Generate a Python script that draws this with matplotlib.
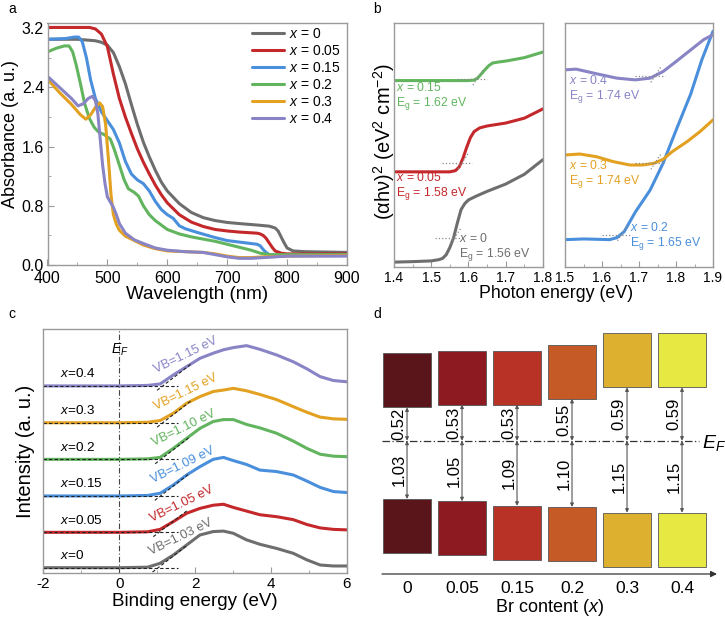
import numpy as np
import matplotlib
matplotlib.use('Agg')
import matplotlib.pyplot as plt
from matplotlib.patches import Rectangle
from matplotlib.ticker import MultipleLocator, FormatStrFormatter, FuncFormatter

plt.rcParams['font.family'] = ['Liberation Sans', 'DejaVu Sans']
plt.rcParams['mathtext.fontset'] = 'custom'
plt.rcParams['mathtext.it'] = 'Liberation Sans:italic'
plt.rcParams['mathtext.rm'] = 'Liberation Sans'
plt.rcParams['mathtext.bf'] = 'Liberation Sans:bold'

# ---------------- data ----------------
comp_labels = ['0', '0.05', '0.15', '0.2', '0.3', '0.4']
colors = ['#6e6e6e', '#c4282b', '#4a8fdc', '#62b45e', '#e3a121', '#8884c6']

# Panel a : absorbance spectra
wl_0 = [400, 450, 480, 490, 500, 510, 520, 530, 540, 550, 560, 570, 580, 590, 600, 620, 640, 660, 680, 700,
        720, 750, 770, 780, 785, 790, 795, 800, 810, 830, 900]
ab_0 = [3.05, 3.05, 3.03, 3.01, 2.97, 2.87, 2.68, 2.45, 2.17, 1.90, 1.66, 1.46, 1.28, 1.12, 1.00, 0.83, 0.71,
        0.64, 0.60, 0.575, 0.56, 0.54, 0.525, 0.50, 0.46, 0.38, 0.30, 0.23, 0.19, 0.18, 0.17]
wl_005 = [400, 470, 480, 490, 500, 510, 520, 530, 540, 550, 560, 570, 580, 590, 600, 620, 640, 660, 680, 700,
          720, 750, 755, 760, 765, 770, 775, 780, 790, 800, 900]
ab_005 = [3.21, 3.21, 3.19, 3.12, 2.95, 2.58, 2.25, 2.00, 1.78, 1.57, 1.39, 1.23, 1.08, 0.95, 0.84, 0.68, 0.58,
          0.52, 0.48, 0.46, 0.445, 0.43, 0.42, 0.40, 0.36, 0.30, 0.24, 0.19, 0.16, 0.15, 0.15]
wl_015 = [400, 430, 445, 452, 458, 465, 472, 480, 490, 500, 510, 520, 530, 540, 550, 560, 570, 580, 590, 600,
          610, 620, 630, 650, 680, 700, 720, 740, 750, 755, 760, 765, 770, 780, 900]
ab_015 = [3.05, 3.06, 3.08, 3.08, 3.02, 2.80, 2.50, 2.25, 2.07, 1.95, 1.83, 1.65, 1.40, 1.23, 1.15, 1.10, 1.00,
          0.86, 0.75, 0.68, 0.63, 0.53, 0.49, 0.44, 0.37, 0.33, 0.31, 0.29, 0.28, 0.26, 0.21, 0.17, 0.14, 0.13, 0.13]
wl_02 = [400, 415, 428, 436, 442, 448, 455, 462, 470, 478, 485, 495, 505, 512, 520, 528, 535, 545, 552, 560,
         570, 580, 590, 600, 620, 640, 660, 680, 700, 720, 740, 755, 770, 900]
ab_02 = [2.88, 2.93, 2.96, 2.96, 2.88, 2.70, 2.45, 2.18, 1.98, 1.86, 1.80, 1.76, 1.70, 1.55, 1.35, 1.15, 1.03,
         0.98, 0.93, 0.80, 0.68, 0.60, 0.54, 0.48, 0.42, 0.38, 0.35, 0.32, 0.28, 0.24, 0.20, 0.16, 0.14, 0.14]
wl_03 = [400, 420, 440, 455, 464, 472, 480, 487, 492, 497, 502, 506, 510, 515, 520, 530, 545, 560, 580, 600,
         630, 660, 680, 700, 720, 740, 760, 800, 900]
ab_03 = [2.51, 2.33, 2.17, 2.03, 1.97, 2.03, 2.13, 2.19, 2.14, 1.90, 1.40, 0.95, 0.68, 0.55, 0.47, 0.39, 0.33,
         0.27, 0.22, 0.19, 0.18, 0.17, 0.15, 0.12, 0.10, 0.10, 0.11, 0.12, 0.13]
wl_04 = [400, 420, 440, 451, 460, 468, 475, 480, 484, 488, 492, 496, 500, 505, 510, 515, 520, 530, 545, 560,
         580, 600, 630, 660, 680, 700, 720, 740, 760, 800, 900]
ab_04 = [2.55, 2.40, 2.25, 2.15, 2.18, 2.25, 2.28, 2.22, 2.05, 1.70, 1.35, 1.10, 0.92, 0.85, 0.78, 0.68, 0.56,
         0.43, 0.34, 0.29, 0.23, 0.20, 0.18, 0.17, 0.14, 0.11, 0.09, 0.09, 0.10, 0.12, 0.12]

# Panel b : Tauc plots (arbitrary units)
tl_e0 = [1.40, 1.45, 1.50, 1.52, 1.53, 1.54, 1.55, 1.56, 1.57, 1.58, 1.59, 1.60, 1.62, 1.65, 1.70, 1.75, 1.80]
tl_y0 = [0.02, 0.022, 0.025, 0.03, 0.035, 0.05, 0.08, 0.12, 0.18, 0.235, 0.26, 0.275, 0.29, 0.31, 0.34, 0.38, 0.44]
tl_e005 = [1.40, 1.50, 1.55, 1.565, 1.575, 1.585, 1.595, 1.605, 1.615, 1.63, 1.65, 1.70, 1.75, 1.80]
tl_y005 = [0.39, 0.39, 0.39, 0.395, 0.41, 0.445, 0.49, 0.53, 0.555, 0.57, 0.578, 0.59, 0.61, 0.648]
tl_e015 = [1.40, 1.60, 1.615, 1.625, 1.635, 1.645, 1.655, 1.665, 1.68, 1.70, 1.75, 1.80]
tl_y015 = [0.764, 0.764, 0.766, 0.775, 0.792, 0.81, 0.826, 0.836, 0.84, 0.844, 0.858, 0.881]
tr_e02 = [1.50, 1.55, 1.60, 1.62, 1.64, 1.66, 1.675, 1.69, 1.73, 1.765, 1.80, 1.84, 1.87, 1.90]
tr_y02 = [0.112, 0.115, 0.113, 0.112, 0.12, 0.145, 0.185, 0.225, 0.315, 0.425, 0.56, 0.71, 0.85, 0.966]
tr_e03 = [1.50, 1.54, 1.585, 1.63, 1.675, 1.71, 1.74, 1.765, 1.79, 1.83, 1.865, 1.90]
tr_y03 = [0.459, 0.463, 0.452, 0.432, 0.418, 0.418, 0.425, 0.441, 0.473, 0.514, 0.555, 0.603]
tr_e04 = [1.50, 1.53, 1.585, 1.64, 1.69, 1.73, 1.765, 1.80, 1.84, 1.875, 1.90]
tr_y04 = [0.808, 0.811, 0.792, 0.774, 0.767, 0.774, 0.801, 0.842, 0.89, 0.932, 0.952]
eg_left = [1.56, 1.58, 1.62]
eg_right = [1.65, 1.74, 1.74]

# Panel c : UPS valence band spectra (offset, arbitrary units)
be = [-2.0, 0.0, 0.75, 1.08, 1.43, 1.78, 2.13, 2.48, 2.75, 3.01, 3.36, 3.71, 4.15, 4.59, 4.95, 5.30, 5.65, 6.0]
ups_0 = [0.023, 0.023, 0.025, 0.041, 0.075, 0.116, 0.157, 0.171, 0.173, 0.164, 0.137, 0.119, 0.102, 0.082,
         0.055, 0.034, 0.030, 0.030]
ups_005 = [0.168, 0.168, 0.170, 0.180, 0.212, 0.246, 0.266, 0.279, 0.283, 0.270, 0.255, 0.240, 0.232, 0.220,
           0.200, 0.186, 0.180, 0.178]
ups_015 = [0.317, 0.317, 0.319, 0.328, 0.362, 0.403, 0.437, 0.467, 0.475, 0.462, 0.446, 0.423, 0.417, 0.403,
           0.378, 0.352, 0.335, 0.331]
ups_02 = [0.467, 0.467, 0.469, 0.475, 0.512, 0.553, 0.594, 0.622, 0.630, 0.630, 0.610, 0.596, 0.574, 0.542,
          0.512, 0.488, 0.480, 0.478]
ups_03 = [0.617, 0.617, 0.619, 0.626, 0.656, 0.697, 0.724, 0.745, 0.751, 0.758, 0.748, 0.733, 0.712, 0.683,
          0.660, 0.640, 0.633, 0.631]
ups_04 = [0.768, 0.768, 0.770, 0.776, 0.813, 0.847, 0.881, 0.902, 0.916, 0.925, 0.933, 0.918, 0.895, 0.867,
          0.838, 0.806, 0.790, 0.785]
vb_values = [1.03, 1.05, 1.09, 1.10, 1.15, 1.15]

# Panel d : band alignment
cb_offsets = [0.52, 0.53, 0.53, 0.55, 0.59, 0.59]
box_colors = ['#5a151a', '#8e1a21', '#b93226', '#c65a27', '#ddb02f', '#e8e843']

# ---------------- figure ----------------
W, H = 725, 618
fig = plt.figure(figsize=(W / 100, H / 100), dpi=100)


def fax(l, t, r, b):
    return fig.add_axes([l / W, 1 - b / H, (r - l) / W, (b - t) / H])


spine_c = '#9a9a9a'


def style(ax, ls=11):
    for s in ax.spines.values():
        s.set_color(spine_c)
        s.set_linewidth(1.0)
    ax.tick_params(which='both', direction='in', color=spine_c, labelsize=ls, pad=3)
    ax.tick_params(which='major', length=4)
    ax.tick_params(which='minor', length=2.5)


# ----- panel a -----
axa = fax(47.5, 23, 347, 265)
style(axa, 11.5)
axa.tick_params(axis='x', pad=4.5)
axa.tick_params(axis='y', pad=2.5)
a_series = [(wl_0, ab_0), (wl_005, ab_005), (wl_015, ab_015), (wl_02, ab_02), (wl_03, ab_03), (wl_04, ab_04)]
for (w, a), c, lab in zip(a_series, colors, comp_labels):
    axa.plot(w, a, color=c, lw=2.2, label='$x$ = ' + lab, solid_capstyle='round')
axa.set_xlim(400, 900)
axa.set_ylim(0, 3.27)
axa.xaxis.set_major_locator(MultipleLocator(100))
axa.xaxis.set_minor_locator(MultipleLocator(50))
axa.yaxis.set_major_locator(MultipleLocator(0.8))
axa.yaxis.set_minor_locator(MultipleLocator(0.4))
axa.yaxis.set_major_formatter(FormatStrFormatter('%.1f'))
axa.set_xlabel('Wavelength (nm)', fontsize=13.5, labelpad=0)
axa.set_ylabel('Absorbance (a. u.)', fontsize=13)
axa.yaxis.set_label_coords(-0.095, 0.54)
axa.legend(loc='upper left', bbox_to_anchor=(0.682, 0.985), frameon=False, fontsize=10,
           handlelength=2.35, handletextpad=0.35, labelspacing=0.22, borderpad=0, borderaxespad=0)

# ----- panel b -----
axbl = fax(394, 23, 543, 267)
axbr = fax(565, 23, 713, 267)
for ax in (axbl, axbr):
    style(ax, 10)
    ax.set_yticks([])
    ax.set_ylim(0, 1)
    ax.xaxis.set_major_locator(MultipleLocator(0.1))
    ax.xaxis.set_minor_locator(MultipleLocator(0.05))
    ax.xaxis.set_major_formatter(FormatStrFormatter('%.1f'))
axbl.set_xlim(1.4, 1.8)
axbr.set_xlim(1.5, 1.9)

# colours in panel b follow the original figure (0.15 green, 0.2 blue)
left_series = [(tl_e0, tl_y0, colors[0], comp_labels[0]), (tl_e005, tl_y005, colors[1], comp_labels[1]),
               (tl_e015, tl_y015, colors[3], comp_labels[2])]
right_series = [(tr_e02, tr_y02, colors[2], comp_labels[3]), (tr_e03, tr_y03, colors[4], comp_labels[4]),
                (tr_e04, tr_y04, colors[5], comp_labels[5])]

tan_c = '#8a8a8a'


def tauc(ax, series, egs, text_pos):
    for (e, y, c, lab), eg, (tx, ty) in zip(series, egs, text_pos):
        ax.plot(e, y, color=c, lw=2.2, solid_capstyle='round')
        y0 = np.interp(eg, e, y)
        ax.plot([eg - 0.05, eg + 0.03], [y0, y0], ls=':', color=tan_c, lw=0.9)
        ax.plot([eg - 0.008, eg + 0.02], [y0 - 0.025, y0 + 0.04], ls=':', color=tan_c, lw=0.9)
        ax.text(tx, ty, '$x$ = %s\nE$_\\mathrm{g}$ = %.2f eV' % (lab, eg), color=c, fontsize=8.8,
                ha='left', va='center', linespacing=1.1)


tauc(axbl, left_series, eg_left, [(1.574, 0.080), (1.405, 0.331), (1.405, 0.700)])
tauc(axbr, right_series, eg_right, [(1.675, 0.126), (1.512, 0.378), (1.512, 0.728)])
fig.text(384 / W, 1 - 142 / H, '(αhν)$^2$ (eV$^2$ cm$^{-2}$)', rotation=90, ha='center',
         va='center', fontsize=14.5)
fig.text(556 / W, 1 - 294 / H, 'Photon energy (eV)', ha='center', va='center', fontsize=12.8)

# ----- panel c -----
axc = fax(43.3, 329.3, 346.7, 573.3)
style(axc, 11)
axc.set_xlim(-2, 6)
axc.set_ylim(0, 1)
axc.set_yticks([])
axc.xaxis.set_major_locator(MultipleLocator(2))
axc.xaxis.set_minor_locator(MultipleLocator(1))
axc.xaxis.set_major_formatter(FuncFormatter(lambda v, p: '%d' % v))
axc.axvline(0, color='#444444', lw=0.8, ls=(0, (5, 2, 1, 2)))
axc.text(0.02, 0.915, '$E_F$', ha='center', va='center', fontsize=10)
ups = [ups_0, ups_005, ups_015, ups_02, ups_03, ups_04]
for y, c, lab, vb in zip(ups, colors, comp_labels, vb_values):
    axc.plot(be, y, color=c, lw=2.2, solid_capstyle='round')
    base = y[0]
    axc.plot([-2, 1.55], [base, base], color='#222222', lw=0.8, ls=(0, (3, 2)))
    axc.plot([vb - 0.15, vb + 0.75], [base - 0.018, base + 0.09], color='#222222', lw=0.8, ls=(0, (3, 2)))
    axc.text(-1.56, base + 0.05, '$x$=' + lab, fontsize=9.7, ha='left', va='center')
    cx = vb + 0.6
    axc.text(cx, np.interp(cx, be, y) + 0.05, 'VB=%.2f eV' % vb, color=c, fontsize=9.3, rotation=26,
             ha='center', va='center', rotation_mode='anchor')
axc.set_xlabel('Binding energy (eV)', fontsize=13.5, labelpad=1)
axc.set_ylabel('Intensity (a. u.)', fontsize=14.5, labelpad=6)

# ----- panel d -----
axd = fax(382, 325, 717, 574)
axd.set_xlim(-0.455, 5.636)
axd.set_ylim(-133.3, 115.7)
for s in axd.spines.values():
    s.set_visible(False)
axd.set_yticks([])


def cb_scale(v):
    return 33.3 + 285.7 * (v - 0.52)


def vb_scale(v):
    return 58.3 + 114.0 * (v - 1.03)


box_w, box_h = 0.89, 54
arrow_c = '#555555'
for i, (cbo, vbo, bc) in enumerate(zip(cb_offsets, vb_values, box_colors)):
    top = cb_scale(cbo)
    bot = vb_scale(vbo)
    axd.add_patch(Rectangle((i - box_w / 2, top), box_w, box_h, facecolor=bc, edgecolor='#555555', lw=0.6))
    axd.add_patch(Rectangle((i - box_w / 2, -bot - box_h), box_w, box_h, facecolor=bc, edgecolor='#555555', lw=0.6))
    axd.annotate('', xy=(i, top), xytext=(i, 0),
                 arrowprops=dict(arrowstyle='<|-|>', mutation_scale=5, lw=0.8, color=arrow_c,
                                 shrinkA=0, shrinkB=0))
    axd.annotate('', xy=(i, -bot), xytext=(i, 0),
                 arrowprops=dict(arrowstyle='<|-|>', mutation_scale=5, lw=0.8, color=arrow_c,
                                 shrinkA=0, shrinkB=0))
    axd.text(i - 0.14, top / 2, '%.2f' % cbo, rotation=90, ha='center', va='center', fontsize=12)
    axd.text(i - 0.14, -bot / 2, '%.2f' % vbo, rotation=90, ha='center', va='center', fontsize=12)
axd.plot([-0.455, 5.3], [0, 0], color='#333333', lw=0.9, ls=(0, (6, 2, 1, 2)))
axd.text(5.36, -2, '$E_F$', fontsize=14, ha='left', va='center')
axd.annotate('', xy=(1.0, 0), xytext=(0, 0), xycoords='axes fraction',
             arrowprops=dict(arrowstyle='-|>', mutation_scale=9, lw=0.9, color='#333333',
                             shrinkA=0, shrinkB=0))
axd.set_xticks(range(len(comp_labels)))
axd.set_xticklabels(comp_labels, fontsize=12.5)
axd.tick_params(axis='x', length=0, pad=5)
axd.set_xlabel('Br content ($x$)', fontsize=13, labelpad=1)

# panel letters
for lab, x, y in [('a', 8, 9), ('b', 373, 9), ('c', 8, 314), ('d', 373, 314)]:
    fig.text(x / W, 1 - y / H, lab, fontsize=10, ha='left', va='center')

fig.savefig('out.png', dpi=100)
